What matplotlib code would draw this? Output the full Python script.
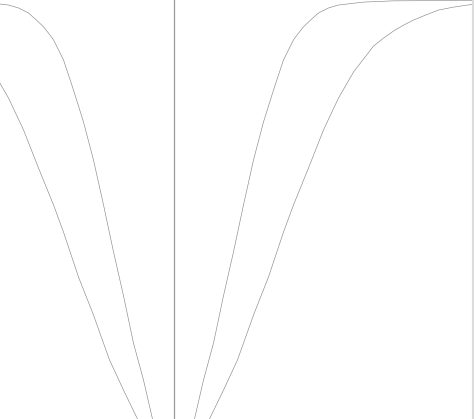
"""Two symmetric curve pairs around a centre line"""

import matplotlib

matplotlib.use("Agg")
import matplotlib.pyplot as plt
import numpy as np

# distance from the centre line and height (0 = bottom edge, 1 = top edge)
inner_x = [0.21, 0.30, 0.40, 0.50, 0.60, 0.70, 0.80, 0.90, 1.00, 1.10, 1.20,
           1.25, 1.30, 1.37, 1.45, 1.55, 1.65, 1.90, 2.20, 3.00]
inner_y = [0.000, 0.093, 0.181, 0.294, 0.399, 0.511, 0.618, 0.709, 0.785, 0.857,
           0.905, 0.921, 0.936, 0.952, 0.969, 0.981, 0.988, 0.995, 0.998, 0.999]

outer_x = [0.36, 0.50, 0.64, 0.80, 0.95, 1.10, 1.20, 1.35, 1.50, 1.65, 1.80,
           2.00, 2.10, 2.20, 2.30, 2.40, 2.52, 2.65, 2.80, 3.00]
outer_y = [0.000, 0.069, 0.141, 0.248, 0.339, 0.446, 0.511, 0.599, 0.690, 0.766,
           0.828, 0.890, 0.909, 0.926, 0.940, 0.952, 0.964, 0.976, 0.983, 0.990]

centre_x = 0.0
edge_x = 2.99

fig = plt.figure(figsize=(4.74, 4.19), dpi=100)
ax = fig.add_axes([0, 0, 1, 1])

line_kw = dict(color="#8a8a8a", linewidth=0.45)
for xs, ys in [(inner_x, inner_y), (outer_x, outer_y)]:
    xs = np.array(xs)
    ax.plot(xs, ys, **line_kw)
    ax.plot(-xs, ys, **line_kw)

ax.axvline(centre_x, color="#9a9a9a", linewidth=0.9)
ax.axvline(edge_x, color="#dcdcdc", linewidth=1.6)

ax.set_xlim(-1.735, 3.005)
ax.set_ylim(0, 1)
ax.axis("off")

fig.savefig("out.png", dpi=100, facecolor="white")
plt.close(fig)
